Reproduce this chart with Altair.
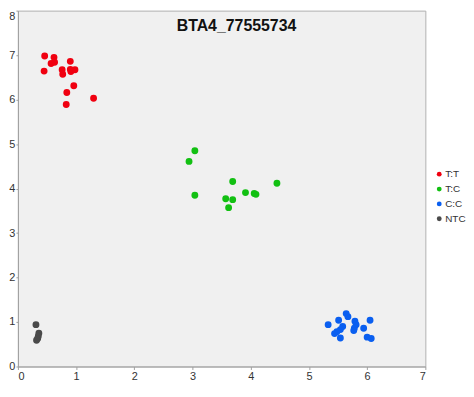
import altair as alt
import pandas as pd

# T:T (red)
tt_x = [0.46, 0.62, 0.57, 0.63, 0.45, 0.76, 0.77, 0.90, 0.90, 0.91, 0.98, 0.96, 0.84, 0.83, 1.30]
tt_y = [6.98, 6.95, 6.81, 6.84, 6.64, 6.67, 6.57, 6.86, 6.68, 6.63, 6.67, 6.31, 6.16, 5.89, 6.03]
# T:C (green)
tc_x = [3.04, 2.94, 3.04, 3.69, 3.57, 3.69, 3.62, 3.91, 4.06, 4.09, 4.45]
tc_y = [4.85, 4.61, 3.85, 4.16, 3.77, 3.75, 3.57, 3.91, 3.89, 3.87, 4.12]
# C:C (blue)
cc_x = [5.33, 5.51, 5.64, 5.67, 5.79, 5.81, 5.78, 5.77, 6.05, 5.94, 5.58, 5.54, 5.48, 5.44, 5.54, 6.00, 6.07]
cc_y = [0.94, 1.04, 1.19, 1.12, 1.02, 0.94, 0.86, 0.81, 1.04, 0.86, 0.90, 0.83, 0.78, 0.74, 0.64, 0.66, 0.63]
# NTC (dark gray)
ntc_x = [0.31, 0.36, 0.35, 0.34, 0.32]
ntc_y = [0.94, 0.75, 0.68, 0.63, 0.59]

groups = ["T:T", "T:C", "C:C", "NTC"]
colors = ["#f00010", "#12c012", "#0a5ff0", "#4a4a4a"]

rows = []
for g, xs, ys in zip(groups, [tt_x, tc_x, cc_x, ntc_x], [tt_y, tc_y, cc_y, ntc_y]):
    for x, y in zip(xs, ys):
        rows.append({"x": x, "y": y, "Genotype": g})
df = pd.DataFrame(rows)

font = "Liberation Sans"

chart = alt.Chart(df).mark_circle(size=48, opacity=1).encode(
    x=alt.X("x:Q", scale=alt.Scale(domain=[0, 7], nice=False),
            axis=alt.Axis(values=list(range(0, 8)), title=None, grid=False,
                          tickSize=3, labelPadding=1, domainColor="#a0a0a0",
                          tickColor="#a0a0a0", labelColor="#333333",
                          labelFont=font, labelFontSize=11)),
    y=alt.Y("y:Q", scale=alt.Scale(domain=[0, 8], nice=False),
            axis=alt.Axis(values=list(range(0, 9)), title=None, grid=False,
                          tickSize=2, labelPadding=1, domainColor="#a0a0a0",
                          tickColor="#a0a0a0", labelColor="#333333",
                          labelFont=font, labelFontSize=11,
                          labelBaseline=alt.condition("datum.value == 8",
                                                      alt.value("top"),
                                                      alt.value("middle")))),
    color=alt.Color("Genotype:N", scale=alt.Scale(domain=groups, range=colors),
                    legend=alt.Legend(title=None, orient="none", legendX=420, legendY=160,
                                      symbolType="circle", symbolSize=24,
                                      labelFont=font, labelFontSize=10,
                                      labelColor="#333333", rowPadding=5,
                                      symbolOffset=0, padding=0, labelOffset=1)),
).properties(
    width=411,
    height=359,
    padding=0,
    title=alt.TitleParams("BTA4_77555734", font=font, fontSize=16, fontWeight="bold",
                          color="#111111", anchor="middle", offset=-24, dx=15),
).configure_view(
    fill="#f0f0f0", stroke="#b0b0b0", strokeWidth=1
)

chart.save("out.html", embed_options={"renderer": "svg", "actions": False})
